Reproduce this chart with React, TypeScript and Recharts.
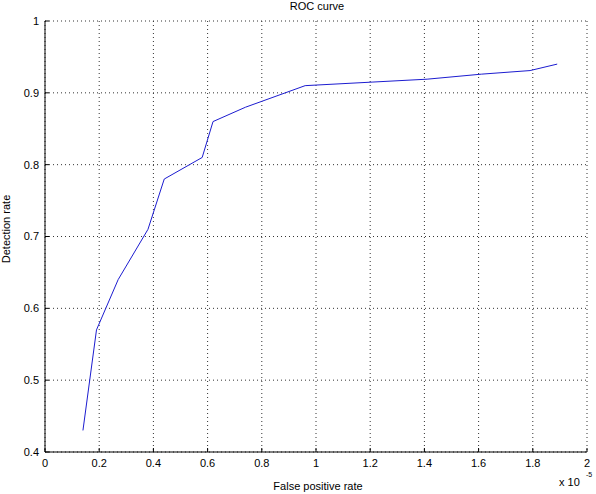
import { LineChart, Line, XAxis, YAxis, CartesianGrid } from 'recharts'

const falsePositive = [0.14, 0.19, 0.27, 0.38, 0.44, 0.58, 0.62, 0.74, 0.96, 1.21, 1.41, 1.61, 1.79, 1.89]
const detectionRate = [0.43, 0.57, 0.64, 0.71, 0.78, 0.81, 0.86, 0.88, 0.91, 0.915, 0.919, 0.926, 0.931, 0.94]

const xTicks = [0, 0.2, 0.4, 0.6, 0.8, 1, 1.2, 1.4, 1.6, 1.8, 2]
const yTicks = [0.4, 0.5, 0.6, 0.7, 0.8, 0.9, 1]

const data = falsePositive.map((x, i) => ({ x, y: detectionRate[i] }))

const FONT = '"Liberation Sans", Arial, Helvetica, sans-serif'
const tickStyle = { fontSize: 11, fill: '#000', fontFamily: FONT }
const axisLine = { stroke: '#000', strokeWidth: 1 }
const tickLine = { stroke: '#000', strokeWidth: 1 }
const noLabel = () => <g />

export default function App() {
  return (
    <div style={{ position: 'absolute', left: 0, top: 0, width: 596, height: 494, background: '#fff' }}>
      <LineChart
        width={596}
        height={494}
        data={data}
        margin={{ top: 21, right: 9, bottom: 0, left: 0 }}
      >
        <CartesianGrid stroke="#333" strokeDasharray="1 3" strokeWidth={1} />
        <XAxis
          dataKey="x"
          type="number"
          domain={[0, 2]}
          ticks={xTicks}
          height={42}
          tick={tickStyle}
          axisLine={axisLine}
          tickLine={tickLine}
          tickSize={-4}
          tickMargin={11}
          interval={0}
        />
        <XAxis
          xAxisId="top"
          orientation="top"
          type="number"
          domain={[0, 2]}
          ticks={xTicks}
          height={0}
          tick={noLabel}
          axisLine={axisLine}
          tickLine={tickLine}
          tickSize={-4}
          interval={0}
        />
        <YAxis
          type="number"
          domain={[0.4, 1]}
          ticks={yTicks}
          width={45}
          tick={tickStyle}
          axisLine={axisLine}
          tickLine={tickLine}
          tickSize={-4}
          tickMargin={10}
          interval={0}
        />
        <YAxis
          yAxisId="right"
          orientation="right"
          type="number"
          domain={[0.4, 1]}
          ticks={yTicks}
          width={0}
          tick={noLabel}
          axisLine={axisLine}
          tickLine={tickLine}
          tickSize={-4}
          interval={0}
        />
        <Line
          type="linear"
          dataKey="y"
          stroke="#1c1cd0"
          strokeWidth={1}
          dot={false}
          isAnimationActive={false}
        />
      </LineChart>
      <svg
        width={596}
        height={494}
        style={{ position: 'absolute', left: 0, top: 0, pointerEvents: 'none' }}
        fontFamily={FONT}
        fontSize={11}
        fill="#000"
      >
        <text x={317} y={10} textAnchor="middle">ROC curve</text>
        <text x={318} y={490} textAnchor="middle">False positive rate</text>
        <text x={10} y={229} textAnchor="middle" transform="rotate(-90 10 229)">Detection rate</text>
        <text x={559} y={486}>x 10</text>
        <text x={586} y={477} fontSize={7}>-5</text>
      </svg>
    </div>
  )
}
